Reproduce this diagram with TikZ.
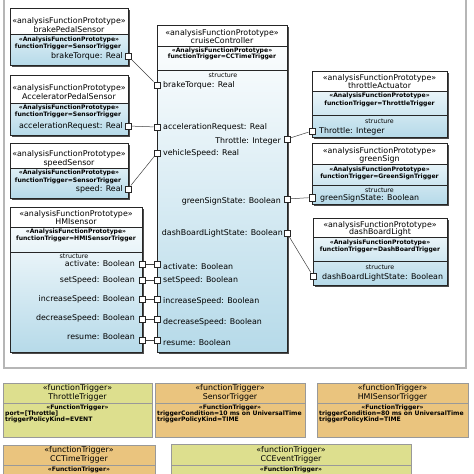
\documentclass[tikz,border=0pt]{standalone}
\usepackage{fontspec}
\setmainfont{DejaVu Sans}
\usepackage{tikz}
\usetikzlibrary{shadows}

\definecolor{afpblue}{RGB}{182,218,233}
\definecolor{trigolive}{RGB}{221,223,142}
\definecolor{trigorange}{RGB}{234,196,126}
\definecolor{framegray}{RGB}{182,182,182}

\begin{document}
\begin{tikzpicture}[x=1pt, y=-1pt,
    afp/.style={draw=black!85, line width=0.6pt, top color=white, bottom color=afpblue,
      anchor=north west, inner sep=0pt, outer sep=0pt,
      drop shadow={shadow xshift=1.6pt, shadow yshift=-1.6pt, opacity=1, fill=black!70}},
    trig/.style={draw=black!40, line width=0.4pt, anchor=north west, inner sep=0pt, outer sep=0pt},
    stereo/.style={font=\fontsize{7.9}{8}\selectfont, inner sep=0pt},
    small/.style={font=\fontsize{6.1}{6}\selectfont\bfseries, inner sep=0pt},
    structlbl/.style={font=\fontsize{6.3}{6}\selectfont, inner sep=0pt},
    lbl/.style={font=\fontsize{7.9}{8}\selectfont, inner sep=0pt},
    port/.style={draw=black!85, fill=white, minimum size=6.5pt, inner sep=0pt, line width=0.5pt},
    wire/.style={draw=black!75, line width=0.5pt},
    divider/.style={draw=black!85, line width=0.5pt}]
    \useasboundingbox (0,0) rectangle (474,474);
    \clip (0,0) rectangle (474,474);

    % frame of the structure
    \draw[framegray, line width=1.2pt] (4,-5) rectangle (466,368);

    % brakePedalSensor
    \node[afp, minimum width=118pt, minimum height=57pt] (bps) at (10,8) {};
    \fill[white] (10.5,8.5) rectangle (127.5,34);
    \draw[divider] (10,34) -- (128,34);
    \node[stereo] (bps-st) at (69,21) {«analysisFunctionPrototype»};
    \node[lbl] (bps-nm) at (69,29.5) {brakePedalSensor};
    \node[small] (bps-afp) at (69,39.5) {«AnalysisFunctionPrototype»};
    \node[small] (bps-ft) at (68,46.5) {functionTrigger=SensorTrigger};
    \node[lbl, anchor=east] (bps-bt) at (123,56) {brakeTorque: Real};
    \node[port] (bps-p) at (128,56) {};

    % AcceleratorPedalSensor
    \node[afp, minimum width=118pt, minimum height=60pt] (aps) at (10,75) {};
    \fill[white] (10.5,75.5) rectangle (127.5,103);
    \draw[divider] (10,103) -- (128,103);
    \node[stereo] (aps-st) at (69,88) {«analysisFunctionPrototype»};
    \node[lbl] (aps-nm) at (69,97) {AcceleratorPedalSensor};
    \node[small] (aps-afp) at (69,108) {«AnalysisFunctionPrototype»};
    \node[small] (aps-ft) at (68,115) {functionTrigger=SensorTrigger};
    \node[lbl, anchor=east] (aps-ar) at (123,126) {accelerationRequest: Real};
    \node[port] (aps-p) at (128,126) {};

    % speedSensor
    \node[afp, minimum width=118pt, minimum height=55pt] (ss) at (10,143) {};
    \fill[white] (10.5,143.5) rectangle (127.5,168);
    \draw[divider] (10,168) -- (128,168);
    \node[stereo] (ss-st) at (69,154) {«analysisFunctionPrototype»};
    \node[lbl] (ss-nm) at (69,163) {speedSensor};
    \node[small] (ss-afp) at (69,173) {«AnalysisFunctionPrototype»};
    \node[small] (ss-ft) at (68,181) {functionTrigger=SensorTrigger};
    \node[lbl, anchor=east] (ss-sp) at (123,189) {speed: Real};
    \node[port] (ss-p) at (128,189) {};

    % HMIsensor
    \node[afp, minimum width=132pt, minimum height=145pt] (hmi) at (10,207) {};
    \fill[white] (10.5,207.5) rectangle (141.5,227);
    \draw[divider] (10,227) -- (142,227);
    \draw[divider] (10,252) -- (142,252);
    \node[stereo] (hmi-st) at (76,214) {«analysisFunctionPrototype»};
    \node[lbl] (hmi-nm) at (76,222) {HMIsensor};
    \node[small] (hmi-afp) at (76,232) {«AnalysisFunctionPrototype»};
    \node[small] (hmi-ft) at (76,239) {functionTrigger=HMISensorTrigger};
    \node[structlbl] (hmi-str) at (74,256.5) {structure};
    \node[lbl, anchor=east] (hmi-act) at (135,263.5) {activate: Boolean};
    \node[lbl, anchor=east] (hmi-set) at (135,280) {setSpeed: Boolean};
    \node[lbl, anchor=east] (hmi-inc) at (135,299) {increaseSpeed: Boolean};
    \node[lbl, anchor=east] (hmi-dec) at (135,318) {decreaseSpeed: Boolean};
    \node[lbl, anchor=east] (hmi-res) at (135,337) {resume: Boolean};
    \node[port] (hmi-p1) at (142,264) {};
    \node[port] (hmi-p2) at (142,280) {};
    \node[port] (hmi-p3) at (142,299) {};
    \node[port] (hmi-p4) at (142,319) {};
    \node[port] (hmi-p5) at (142,340) {};

    % cruiseController
    \node[afp, minimum width=130pt, minimum height=327pt] (cc) at (157,25) {};
    \fill[white] (157.5,25.5) rectangle (286.5,46);
    \draw[divider] (157,46) -- (287,46);
    \draw[divider] (157,70) -- (287,70);
    \node[stereo] (cc-st) at (222,33) {«analysisFunctionPrototype»};
    \node[lbl] (cc-nm) at (222,41) {cruiseController};
    \node[small] (cc-afp) at (222,50.5) {«AnalysisFunctionPrototype»};
    \node[small] (cc-ft) at (222,57) {functionTrigger=CCTimeTrigger};
    \node[structlbl] (cc-str) at (223,75) {structure};
    \node[lbl, anchor=west] (cc-bt) at (163,85) {brakeTorque: Real};
    \node[lbl, anchor=west] (cc-ar) at (163,127) {accelerationRequest: Real};
    \node[lbl, anchor=west] (cc-vs) at (163,153) {vehicleSpeed: Real};
    \node[lbl, anchor=east] (cc-th) at (281,141) {Throttle: Integer};
    \node[lbl, anchor=east] (cc-gs) at (281,201) {greenSignState: Boolean};
    \node[lbl, anchor=east] (cc-db) at (283,233) {dashBoardLightState: Boolean};
    \node[lbl, anchor=west] (cc-act) at (163,267) {activate: Boolean};
    \node[lbl, anchor=west] (cc-set) at (163,280) {setSpeed: Boolean};
    \node[lbl, anchor=west] (cc-inc) at (163,301) {increaseSpeed: Boolean};
    \node[lbl, anchor=west] (cc-dec) at (163,322) {decreaseSpeed: Boolean};
    \node[lbl, anchor=west] (cc-res) at (163,343) {resume: Boolean};
    \node[port] (cc-pbt) at (157,85) {};
    \node[port] (cc-par) at (157,127) {};
    \node[port] (cc-pvs) at (157,153) {};
    \node[port] (cc-pth) at (287,139) {};
    \node[port] (cc-pgs) at (287,199) {};
    \node[port] (cc-pdb) at (287,233) {};
    \node[port] (cc-p1) at (157,264) {};
    \node[port] (cc-p2) at (157,280) {};
    \node[port] (cc-p3) at (157,299) {};
    \node[port] (cc-p4) at (157,319) {};
    \node[port] (cc-p5) at (157,340) {};

    % throttleActuator
    \node[afp, minimum width=135pt, minimum height=66pt] (ta) at (312,71) {};
    \fill[white] (312.5,71.5) rectangle (446.5,91);
    \draw[divider] (312,91) -- (447,91);
    \draw[divider] (312,115) -- (447,115);
    \node[stereo] (ta-st) at (379.5,78) {«analysisFunctionPrototype»};
    \node[lbl] (ta-nm) at (379.5,86) {throttleActuator};
    \node[small] (ta-afp) at (379.5,96) {«AnalysisFunctionPrototype»};
    \node[small] (ta-ft) at (379.5,104) {functionTrigger=ThrottleTrigger};
    \node[structlbl] (ta-str) at (379.5,121) {structure};
    \node[lbl, anchor=west] (ta-th) at (319,131) {Throttle: Integer};
    \node[port] (ta-p) at (312,131) {};

    % greenSign
    \node[afp, minimum width=135pt, minimum height=61pt] (gs) at (312,143) {};
    \fill[white] (312.5,143.5) rectangle (446.5,164);
    \draw[divider] (312,164) -- (447,164);
    \draw[divider] (312,185) -- (447,185);
    \node[stereo] (gs-st) at (379.5,151) {«analysisFunctionPrototype»};
    \node[lbl] (gs-nm) at (379.5,159) {greenSign};
    \node[small] (gs-afp) at (379.5,169.5) {«AnalysisFunctionPrototype»};
    \node[small] (gs-ft) at (379.5,176.5) {functionTrigger=GreenSignTrigger};
    \node[structlbl] (gs-str) at (379.5,190) {structure};
    \node[lbl, anchor=west] (gs-gss) at (320,198) {greenSignState: Boolean};
    \node[port] (gs-p) at (312,197.5) {};

    % dashBoardLight
    \node[afp, minimum width=134pt, minimum height=67pt] (dbl) at (313,218) {};
    \fill[white] (313.5,218.5) rectangle (446.5,237);
    \draw[divider] (313,237) -- (447,237);
    \draw[divider] (313,261) -- (447,261);
    \node[stereo] (dbl-st) at (380,225) {«analysisFunctionPrototype»};
    \node[lbl] (dbl-nm) at (380,232) {dashBoardLight};
    \node[small] (dbl-afp) at (380,243) {«AnalysisFunctionPrototype»};
    \node[small] (dbl-ft) at (380,249.5) {functionTrigger=DashBoardTrigger};
    \node[structlbl] (dbl-str) at (380,267) {structure};
    \node[lbl, anchor=west] (dbl-dls) at (322,277) {dashBoardLightState: Boolean};
    \node[port] (dbl-p) at (313,276) {};

    % port connectors
    \draw[wire] (bps-p) -- (cc-pbt);
    \draw[wire] (aps-p) -- (cc-par);
    \draw[wire] (ss-p) -- (cc-pvs);
    \draw[wire] (cc-pth) -- (ta-p);
    \draw[wire] (cc-pgs) -- (gs-p);
    \draw[wire] (cc-pdb) -- (dbl-p);
    \draw[wire] (hmi-p1) -- (cc-p1);
    \draw[wire] (hmi-p2) -- (cc-p2);
    \draw[wire] (hmi-p3) -- (cc-p3);
    \draw[wire] (hmi-p4) -- (cc-p4);
    \draw[wire] (hmi-p5) -- (cc-p5);

    % function triggers
    \node[trig, fill=trigolive, minimum width=149pt, minimum height=54pt] (tt) at (3,383) {};
    \draw[black!40, line width=0.4pt] (3,403) -- (152,403);
    \node[stereo] (tt-st) at (77.5,388.5) {«functionTrigger»};
    \node[lbl] (tt-nm) at (77.5,397) {ThrottleTrigger};
    \node[small] (tt-ft) at (77.5,407.5) {«FunctionTrigger»};
    \node[small, anchor=west] (tt-l1) at (5,413.5) {port=[Throttle]};
    \node[small, anchor=west] (tt-l2) at (5,420) {triggerPolicyKind=EVENT};

    \node[trig, fill=trigorange, minimum width=150pt, minimum height=54pt] (st) at (155,383) {};
    \draw[black!40, line width=0.4pt] (155,403) -- (305,403);
    \node[stereo] (st-st) at (230,388.5) {«functionTrigger»};
    \node[lbl] (st-nm) at (230,397) {SensorTrigger};
    \node[small] (st-ft) at (230,407.5) {«FunctionTrigger»};
    \node[small, anchor=west] (st-l1) at (157,413.5) {triggerCondition=10 ms on UniversalTime};
    \node[small, anchor=west] (st-l2) at (157,420) {triggerPolicyKind=TIME};

    \node[trig, fill=trigorange, minimum width=151pt, minimum height=54pt] (ht) at (317,383) {};
    \draw[black!40, line width=0.4pt] (317,403) -- (468,403);
    \node[stereo] (ht-st) at (392.5,388.5) {«functionTrigger»};
    \node[lbl] (ht-nm) at (392.5,397) {HMISensorTrigger};
    \node[small] (ht-ft) at (392.5,407.5) {«FunctionTrigger»};
    \node[small, anchor=west] (ht-l1) at (319,413.5) {triggerCondition=80 ms on UniversalTime};
    \node[small, anchor=west] (ht-l2) at (319,420) {triggerPolicyKind=TIME};

    \node[trig, fill=trigorange, minimum width=152pt, minimum height=40pt] (cct) at (3,445) {};
    \draw[black!40, line width=0.4pt] (3,465) -- (155,465);
    \node[stereo] (cct-st) at (79,450.5) {«functionTrigger»};
    \node[lbl] (cct-nm) at (79,459) {CCTimeTrigger};
    \node[small] (cct-ft) at (79,469.5) {«FunctionTrigger»};

    \node[trig, fill=trigolive, minimum width=240pt, minimum height=40pt] (cet) at (171,444) {};
    \draw[black!40, line width=0.4pt] (171,465) -- (411,465);
    \node[stereo] (cet-st) at (291,450) {«functionTrigger»};
    \node[lbl] (cet-nm) at (291,459) {CCEventTrigger};
    \node[small] (cet-ft) at (291,469.5) {«FunctionTrigger»};
\end{tikzpicture}
\end{document}
